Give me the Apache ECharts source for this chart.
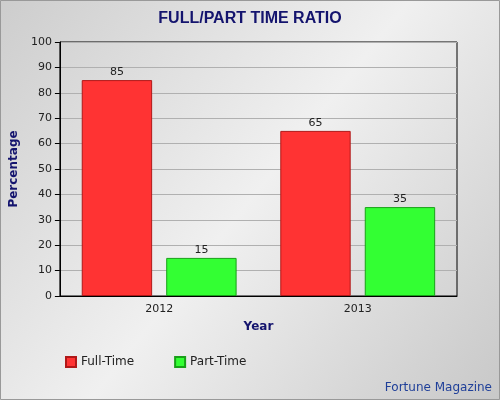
<!DOCTYPE html>
<html>
<head>
<meta charset="utf-8">
<script src="https://cdn.jsdelivr.net/npm/echarts@6/dist/echarts.min.js"></script>
<style>
html, body { margin: 0; padding: 0; }
#chart { width: 500px; height: 400px; }
</style>
</head>
<body>
<div id="chart"></div>
<script>
let years = ['2012', '2013'];
let full_time = [85, 65];
let part_time = [15, 35];

var chartDom = document.getElementById('chart');
var myChart = echarts.init(chartDom);

var option = {
    backgroundColor: {
        type: 'linear', x: 0, y: 0, x2: 1, y2: 1,
        colorStops: [
            { offset: 0, color: '#cdcdcd' },
            { offset: 0.5, color: '#f0f0f0' },
            { offset: 1, color: '#c8c8c8' }
        ]
    },
    graphic: [
        {
            type: 'rect',
            shape: { x: 0.5, y: 0.5, width: 499, height: 399 },
            style: { fill: 'none', stroke: '#999', lineWidth: 1 }
        },
        {
            type: 'text', right: 8, bottom: 6,
            style: { text: 'Fortune Magazine', fill: '#1f3f99', fontSize: 12, fontFamily: 'DejaVu Sans' }
        }
    ],
    title: {
        text: 'FULL/PART TIME RATIO',
        left: 'center',
        top: 6,
        textStyle: { color: '#14146e', fontSize: 16, fontWeight: 'bold', fontFamily: 'Liberation Sans' }
    },
    legend: {
        left: 60,
        top: 351,
        itemWidth: 10,
        itemHeight: 10,
        itemGap: 40,
        icon: 'rect',
        textStyle: { color: '#222', fontSize: 12, fontFamily: 'DejaVu Sans' },
        data: ['Full-Time', 'Part-Time']
    },
    grid: { left: 57, right: 43, top: 42, bottom: 104, show: true, borderColor: '#000', borderWidth: 1, backgroundColor: 'transparent' },
    xAxis: {
        type: 'category',
        data: years,
        name: 'Year',
        nameLocation: 'middle',
        nameGap: 25,
        nameTextStyle: { color: '#14146e', fontWeight: 'bold', fontSize: 12, fontFamily: 'DejaVu Sans' },
        axisLine: { lineStyle: { color: '#000' } },
        axisTick: { alignWithLabel: true, lineStyle: { color: '#000' } },
        axisLabel: { color: '#222', fontSize: 11, fontFamily: 'DejaVu Sans' }
    },
    yAxis: {
        type: 'value',
        min: 0,
        max: 100,
        interval: 10,
        name: 'Percentage',
        nameLocation: 'middle',
        nameGap: 35,
        nameTextStyle: { color: '#14146e', fontWeight: 'bold', fontSize: 12, fontFamily: 'DejaVu Sans' },
        axisLine: { show: true, lineStyle: { color: '#000' } },
        axisTick: { show: true, lineStyle: { color: '#000' } },
        axisLabel: { color: '#222', fontSize: 11, fontFamily: 'DejaVu Sans' },
        splitLine: { lineStyle: { color: '#b0b0b0' } }
    },
    series: [
        {
            name: 'Full-Time',
            type: 'bar',
            data: full_time,
            barGap: '20%',
            barCategoryGap: '22%',
            itemStyle: { color: '#ff3333', borderColor: '#b01818', borderWidth: 1 },
            label: { show: true, position: 'top', distance: 2, color: '#222', fontSize: 11, fontFamily: 'DejaVu Sans' }
        },
        {
            name: 'Part-Time',
            type: 'bar',
            data: part_time,
            itemStyle: { color: '#33ff33', borderColor: '#18a018', borderWidth: 1 },
            label: { show: true, position: 'top', distance: 2, color: '#222', fontSize: 11, fontFamily: 'DejaVu Sans' }
        }
    ]
};

myChart.setOption(option);
</script>
</body>
</html>
